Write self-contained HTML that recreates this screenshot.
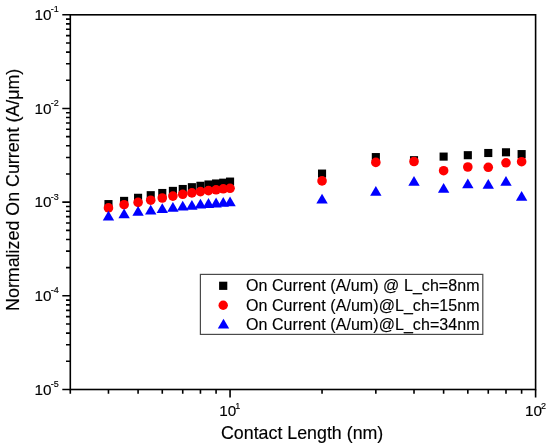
<!DOCTYPE html>
<html><head><meta charset="utf-8"><title>Normalized On Current vs Contact Length</title>
<style>html,body{margin:0;padding:0;background:#fff}svg{display:block}text{font-family:"Liberation Sans",Arial,sans-serif;fill:#000;stroke:#000;stroke-width:0.15px}</style></head><body>
<svg width="550" height="446" viewBox="0 0 550 446">
<rect width="550" height="446" fill="#fff"/>
<g stroke="#000" stroke-width="1.6" fill="none" stroke-linecap="butt">
<rect x="70.3" y="14.8" width="465.30" height="374.70"/>
<path d="M62.30 389.50H70.3M62.30 295.82H70.3M62.30 202.15H70.3M62.30 108.47H70.3M62.30 14.80H70.3M66.00 361.30H70.3M66.00 344.81H70.3M66.00 333.10H70.3M66.00 324.02H70.3M66.00 316.61H70.3M66.00 310.34H70.3M66.00 304.90H70.3M66.00 300.11H70.3M66.00 267.63H70.3M66.00 251.13H70.3M66.00 239.43H70.3M66.00 230.35H70.3M66.00 222.93H70.3M66.00 216.66H70.3M66.00 211.23H70.3M66.00 206.44H70.3M66.00 173.95H70.3M66.00 157.46H70.3M66.00 145.75H70.3M66.00 136.67H70.3M66.00 129.26H70.3M66.00 122.99H70.3M66.00 117.55H70.3M66.00 112.76H70.3M66.00 80.28H70.3M66.00 63.78H70.3M66.00 52.08H70.3M66.00 43.00H70.3M66.00 35.58H70.3M66.00 29.31H70.3M66.00 23.88H70.3M66.00 19.09H70.3M230.06 389.5V397.50M535.60 389.5V397.50M70.30 389.5V393.80M108.47 389.5V393.80M138.08 389.5V393.80M162.28 389.5V393.80M182.73 389.5V393.80M200.45 389.5V393.80M216.08 389.5V393.80M322.04 389.5V393.80M375.84 389.5V393.80M414.01 389.5V393.80M443.62 389.5V393.80M467.82 389.5V393.80M488.27 389.5V393.80M505.99 389.5V393.80M521.62 389.5V393.80"/>
</g>
<g fill="#000">
<rect x="104.42" y="200.05" width="8.1" height="8.1"/>
<rect x="120.05" y="196.85" width="8.1" height="8.1"/>
<rect x="134.03" y="193.75" width="8.1" height="8.1"/>
<rect x="146.68" y="191.15" width="8.1" height="8.1"/>
<rect x="158.23" y="188.95" width="8.1" height="8.1"/>
<rect x="168.85" y="186.85" width="8.1" height="8.1"/>
<rect x="178.68" y="184.95" width="8.1" height="8.1"/>
<rect x="187.84" y="183.15" width="8.1" height="8.1"/>
<rect x="196.40" y="181.75" width="8.1" height="8.1"/>
<rect x="204.44" y="180.45" width="8.1" height="8.1"/>
<rect x="212.03" y="179.45" width="8.1" height="8.1"/>
<rect x="219.20" y="178.65" width="8.1" height="8.1"/>
<rect x="226.01" y="177.55" width="8.1" height="8.1"/>
<rect x="317.99" y="169.55" width="8.1" height="8.1"/>
<rect x="371.79" y="153.05" width="8.1" height="8.1"/>
<rect x="409.96" y="156.15" width="8.1" height="8.1"/>
<rect x="439.57" y="152.55" width="8.1" height="8.1"/>
<rect x="463.77" y="151.15" width="8.1" height="8.1"/>
<rect x="484.22" y="148.95" width="8.1" height="8.1"/>
<rect x="501.94" y="148.25" width="8.1" height="8.1"/>
<rect x="517.57" y="150.05" width="8.1" height="8.1"/>
</g><g fill="#f00">
<circle cx="108.47" cy="207.90" r="4.8"/>
<circle cx="124.10" cy="204.70" r="4.8"/>
<circle cx="138.08" cy="202.40" r="4.8"/>
<circle cx="150.73" cy="200.20" r="4.8"/>
<circle cx="162.28" cy="198.00" r="4.8"/>
<circle cx="172.90" cy="196.10" r="4.8"/>
<circle cx="182.73" cy="194.30" r="4.8"/>
<circle cx="191.89" cy="192.90" r="4.8"/>
<circle cx="200.45" cy="191.60" r="4.8"/>
<circle cx="208.49" cy="190.60" r="4.8"/>
<circle cx="216.08" cy="189.80" r="4.8"/>
<circle cx="223.25" cy="188.80" r="4.8"/>
<circle cx="230.06" cy="188.30" r="4.8"/>
<circle cx="322.04" cy="180.90" r="4.8"/>
<circle cx="375.84" cy="162.40" r="4.8"/>
<circle cx="414.01" cy="161.50" r="4.8"/>
<circle cx="443.62" cy="170.70" r="4.8"/>
<circle cx="467.82" cy="167.00" r="4.8"/>
<circle cx="488.27" cy="167.30" r="4.8"/>
<circle cx="505.99" cy="162.80" r="4.8"/>
<circle cx="521.62" cy="161.70" r="4.8"/>
</g><g fill="#00f">
<path d="M102.77 220.60L114.17 220.60L108.47 210.80Z"/>
<path d="M118.40 218.30L129.80 218.30L124.10 208.50Z"/>
<path d="M132.38 215.70L143.78 215.70L138.08 205.90Z"/>
<path d="M145.03 214.60L156.43 214.60L150.73 204.80Z"/>
<path d="M156.58 213.10L167.98 213.10L162.28 203.30Z"/>
<path d="M167.20 211.80L178.60 211.80L172.90 202.00Z"/>
<path d="M177.03 210.60L188.43 210.60L182.73 200.80Z"/>
<path d="M186.19 209.70L197.59 209.70L191.89 199.90Z"/>
<path d="M194.75 208.60L206.15 208.60L200.45 198.80Z"/>
<path d="M202.79 207.90L214.19 207.90L208.49 198.10Z"/>
<path d="M210.38 207.40L221.78 207.40L216.08 197.60Z"/>
<path d="M217.55 206.70L228.95 206.70L223.25 196.90Z"/>
<path d="M224.36 206.30L235.76 206.30L230.06 196.50Z"/>
<path d="M316.34 203.60L327.74 203.60L322.04 193.80Z"/>
<path d="M370.14 195.80L381.54 195.80L375.84 186.00Z"/>
<path d="M408.31 185.80L419.71 185.80L414.01 176.00Z"/>
<path d="M437.92 192.80L449.32 192.80L443.62 183.00Z"/>
<path d="M462.12 188.30L473.52 188.30L467.82 178.50Z"/>
<path d="M482.57 188.80L493.97 188.80L488.27 179.00Z"/>
<path d="M500.29 185.80L511.69 185.80L505.99 176.00Z"/>
<path d="M515.92 200.80L527.32 200.80L521.62 191.00Z"/>
</g>
<text x="34.60" y="394.70" font-size="15.3" text-anchor="start">10<tspan font-size="9" dx="-0.9" dy="-7.8">-5</tspan></text>
<text x="34.60" y="301.02" font-size="15.3" text-anchor="start">10<tspan font-size="9" dx="-0.9" dy="-7.8">-4</tspan></text>
<text x="34.60" y="207.35" font-size="15.3" text-anchor="start">10<tspan font-size="9" dx="-0.9" dy="-7.8">-3</tspan></text>
<text x="34.60" y="113.67" font-size="15.3" text-anchor="start">10<tspan font-size="9" dx="-0.9" dy="-7.8">-2</tspan></text>
<text x="34.60" y="20.00" font-size="15.3" text-anchor="start">10<tspan font-size="9" dx="-0.9" dy="-7.8">-1</tspan></text>
<text x="219.20" y="416.30" font-size="15.3" text-anchor="start">10<tspan font-size="9" dx="-0.9" dy="-7.8">1</tspan></text>
<text x="524.90" y="416.30" font-size="15.3" text-anchor="start">10<tspan font-size="9" dx="-0.9" dy="-7.8">2</tspan></text>
<text x="221.0" y="439.0" font-size="17.7" textLength="162.3" lengthAdjust="spacingAndGlyphs">Contact Length (nm)</text>
<text transform="translate(18.8 310.9) rotate(-90)" font-size="17.7" textLength="242.2" lengthAdjust="spacingAndGlyphs">Normalized On Current (A/μm)</text>
<rect x="200.4" y="274.4" width="282.4" height="60" fill="#fff" stroke="#4a4a4a" stroke-width="1.2"/>
<rect x="219.1" y="281.7" width="8.2" height="8.2" fill="#000"/>
<circle cx="223.2" cy="305.2" r="4.7" fill="#f00"/>
<path d="M217.8 328.6L229.2 328.6L223.5 318.8Z" fill="#00f"/>
<g font-size="16">
<text x="246.0" y="291.0" textLength="233.5">On Current (A/um) @ L_ch=8nm</text>
<text x="246.0" y="310.6" textLength="233.5">On Current (A/um)@L_ch=15nm</text>
<text x="246.0" y="330.2" textLength="233.5">On Current (A/um)@L_ch=34nm</text>
</g>
</svg></body></html>
